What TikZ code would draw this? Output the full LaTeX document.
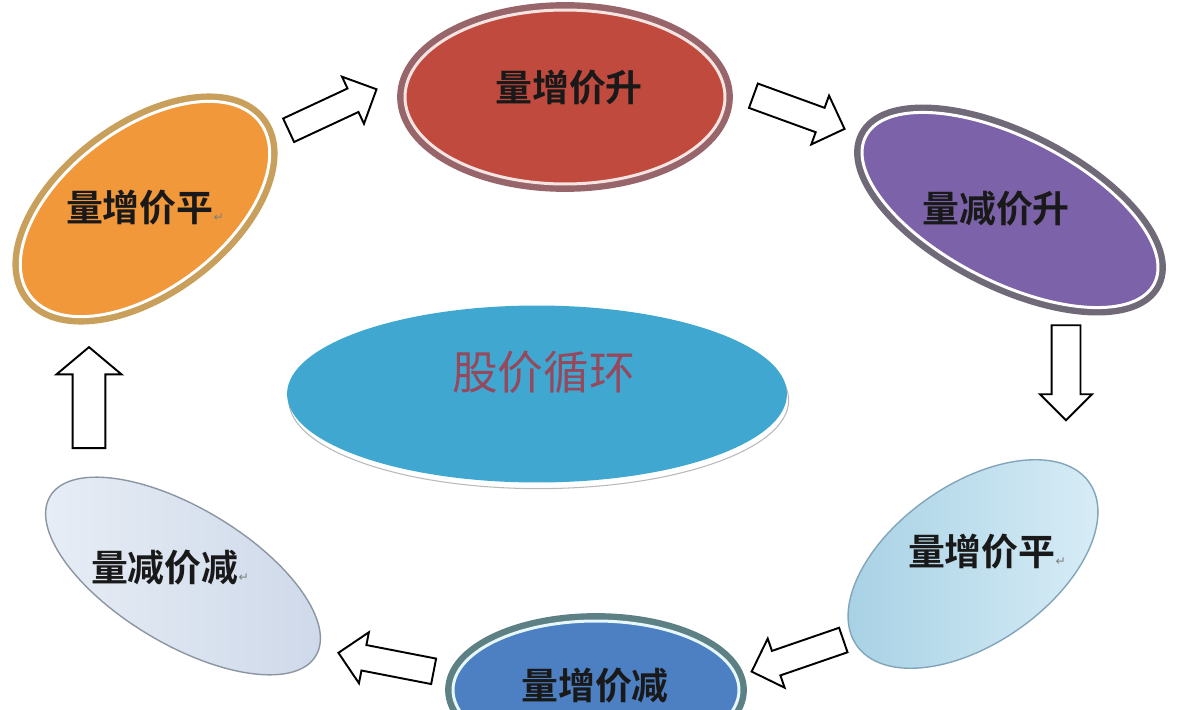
\documentclass[tikz,border=0pt]{standalone}
\usepackage{fontspec}
\newfontfamily\cjk{Noto Sans CJK SC}[BoldFont={Noto Sans CJK SC Bold}]
\newfontfamily\symfont{DejaVu Sans}
\usepackage{tikz}
\usetikzlibrary{shapes.geometric, shapes.arrows, shadows}

\definecolor{orFill}{RGB}{240,152,58}
\definecolor{orRing}{RGB}{200,160,92}
\definecolor{rdFill}{RGB}{192,74,62}
\definecolor{rdRing}{RGB}{152,102,106}
\definecolor{puFill}{RGB}{124,98,168}
\definecolor{puRing}{RGB}{112,106,120}
\definecolor{blFill}{RGB}{76,128,194}
\definecolor{blRing}{RGB}{92,128,132}
\definecolor{lbDark}{RGB}{165,208,228}
\definecolor{lbLight}{RGB}{218,238,247}
\definecolor{lbEdge}{RGB}{130,165,185}
\definecolor{paDark}{RGB}{205,216,233}
\definecolor{paLight}{RGB}{232,238,246}
\definecolor{paEdge}{RGB}{140,150,162}
\definecolor{ctrFill}{RGB}{64,168,208}
\definecolor{ctrText}{RGB}{150,72,92}

\newcommand{\retmark}{{\normalfont\symfont\fontsize{7}{7}\selectfont\color{gray}↵}}

\begin{document}
\begin{tikzpicture}[x=0.02cm, y=-0.02cm,
      oval/.style={ellipse, inner sep=0pt},
      ringed/.style n args={3}{oval, fill=#1, draw=#3, line width=1.7pt,
                  preaction={draw=#2, line width=9pt}},
      flat/.style n args={3}{oval, left color=#1, right color=#2, draw=#3, line width=0.8pt},
      blk/.style={single arrow, draw=black, fill=white, line width=1.1pt, line join=miter,
                  inner xsep=0pt, inner ysep=0.24cm, minimum height=1.94cm,
                  single arrow head extend=0.26cm},
      lbl/.style={font=\cjk\bfseries\fontsize{21}{21}\selectfont, text=black!90}]

    \fill[white] (0,0) rectangle (1194,710);
    \useasboundingbox (0,0) rectangle (1194,710);

    % outer ring of phases
    \node[ringed={orFill}{orRing}{white}, rotate=37, minimum width=5.76cm, minimum height=3.2cm] (or) at (145,209) {};
    \node[ringed={rdFill}{rdRing}{rdFill!15!white}, minimum width=6.4cm, minimum height=3.48cm] (rd) at (565,97) {};
    \node[ringed={puFill}{puRing}{white}, rotate=-27, minimum width=6.48cm, minimum height=2.88cm] (pu) at (1010,210) {};
    \node[flat={lbDark}{lbLight}{lbEdge}, rotate=35, minimum width=5.68cm, minimum height=3.18cm] (lb) at (973,564) {};
    \node[ringed={blFill}{blRing}{cyan!10!white}, minimum width=5.72cm, minimum height=2.76cm] (bl) at (596,690) {};
    \node[flat={paLight}{paDark}{paEdge}, rotate=-31, minimum width=6.2cm, minimum height=2.72cm] (pa) at (183,576) {};

    % centre
    \node[oval, fill=ctrFill, minimum width=10cm, minimum height=3.54cm,
          general shadow={fill=white, draw=gray!55, line width=0.6pt, shadow yshift=-3.5pt, shadow xshift=1pt}] (ctr) at (537,394) {};

    % labels
    \node[lbl] (orT) at (145,208) {量增价平\retmark};
    \node[lbl] (rdT) at (569,88) {量增价升};
    \node[lbl] (puT) at (996,209) {量减价升};
    \node[lbl] (lbT) at (987,552) {量增价平\retmark};
    \node[lbl] (blT) at (595,686) {量增价减};
    \node[lbl] (paT) at (170,568) {量减价减\retmark};
    \node[font=\cjk\fontsize{26}{26}\selectfont, text=ctrText] (ctrT) at (545,372) {股价循环{\symfont\fontsize{5}{5}\selectfont\color{gray}.}};

    % block arrows round the cycle
    \node[blk, rotate=25] (a1) at (326.7,112.5) {};
    \node[blk, rotate=-20] (a2) at (792.9,110.1) {};
    \node[blk, rotate=-90, minimum height=1.9cm, inner ysep=0.27cm, single arrow head extend=0.23cm] (a3) at (1066,365.5) {};
    \node[blk, rotate=199] (a4) at (803.6,653.7) {};
    \node[blk, rotate=169] (a5) at (392.4,663.3) {};
    \node[blk, rotate=90, minimum height=2.02cm, inner ysep=0.31cm, single arrow head extend=0.32cm,
          single arrow tip angle=100] (a6) at (89,404.5) {};

\end{tikzpicture}
\end{document}
